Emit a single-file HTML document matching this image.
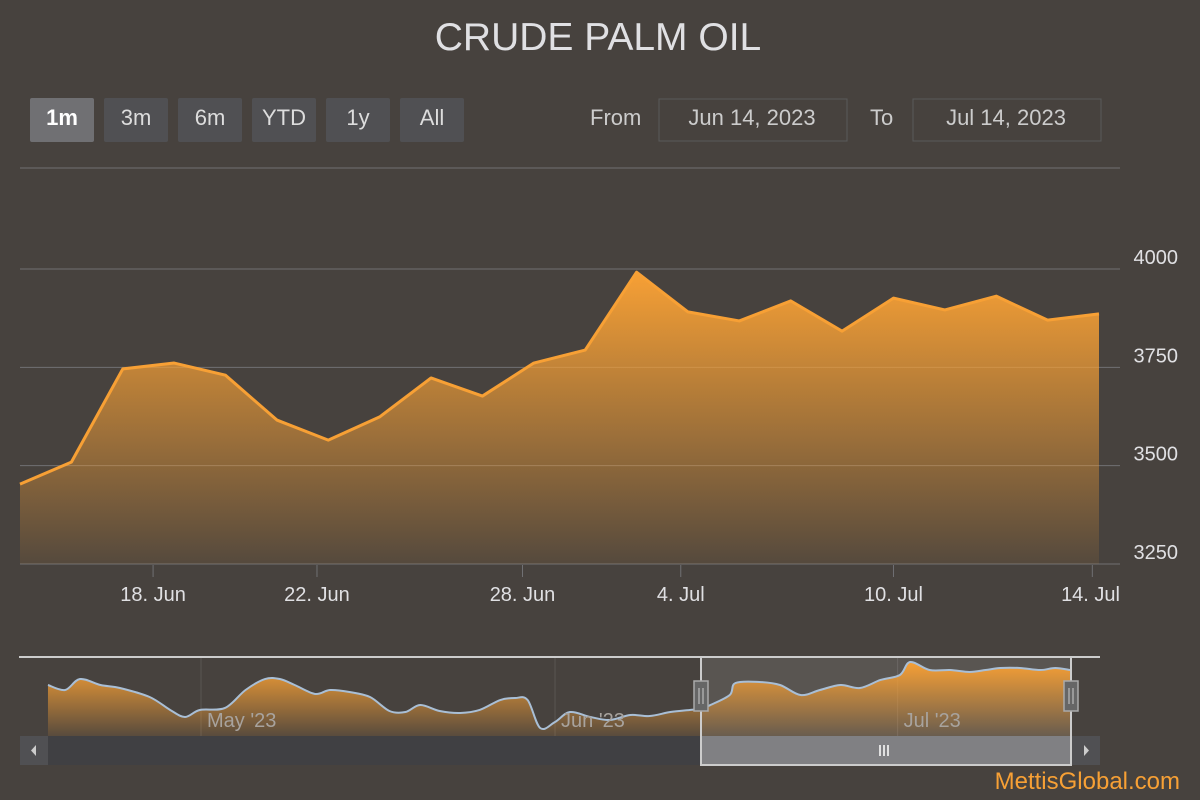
<!DOCTYPE html>
<html><head><meta charset="utf-8"><style>
body{margin:0;background:#47423e;width:1200px;height:800px;overflow:hidden;font-family:"Liberation Sans",sans-serif}
svg{display:block}
</style></head><body>
<svg id="c" width="1200" height="800">
<defs>
<linearGradient id="g" x1="0" y1="0" x2="0" y2="1"><stop offset="0" stop-color="#f7a035"/><stop offset="1" stop-color="#f7a035" stop-opacity="0.08"/></linearGradient>
<linearGradient id="g2" x1="0" y1="0" x2="0" y2="1"><stop offset="0" stop-color="#f7a035"/><stop offset="1" stop-color="#f7a035" stop-opacity="0.1"/></linearGradient>
</defs>
<text x="598" y="50" text-anchor="middle" font-size="39" fill="#e0e0e3">CRUDE PALM OIL</text>
<g>
<rect x="30" y="98" width="64" height="44" rx="2" fill="#707073"/><text x="62" y="125" text-anchor="middle" font-size="22" font-weight="bold" fill="#fff">1m</text>
<rect x="104" y="98" width="64" height="44" rx="2" fill="#505053"/><text x="136" y="125" text-anchor="middle" font-size="22" fill="#ddd">3m</text>
<rect x="178" y="98" width="64" height="44" rx="2" fill="#505053"/><text x="210" y="125" text-anchor="middle" font-size="22" fill="#ddd">6m</text>
<rect x="252" y="98" width="64" height="44" rx="2" fill="#505053"/><text x="284" y="125" text-anchor="middle" font-size="22" fill="#ddd">YTD</text>
<rect x="326" y="98" width="64" height="44" rx="2" fill="#505053"/><text x="358" y="125" text-anchor="middle" font-size="22" fill="#ddd">1y</text>
<rect x="400" y="98" width="64" height="44" rx="2" fill="#505053"/><text x="432" y="125" text-anchor="middle" font-size="22" fill="#ddd">All</text>
<text x="590" y="125" font-size="22" fill="#ccc">From</text>
<rect x="659" y="99" width="188" height="42" fill="none" stroke="#5a5a5a"/><text x="752" y="125" text-anchor="middle" font-size="22" fill="#ccc">Jun 14, 2023</text>
<text x="870" y="125" font-size="22" fill="#ccc">To</text>
<rect x="913" y="99" width="188" height="42" fill="none" stroke="#5a5a5a"/><text x="1006" y="125" text-anchor="middle" font-size="22" fill="#ccc">Jul 14, 2023</text>
</g>
<g id="main"></g>
<g id="nav"></g>
<text x="1180" y="789" text-anchor="end" font-size="24" fill="#f7a035">MettisGlobal.com</text>
</svg>
<script>
const values=[3453,3509,3746,3761,3730,3616,3565,3624,3723,3677,3761,3794,3992,3891,3868,3919,3842,3926,3896,3931,3870,3886];
const tickLabels=["18. Jun","22. Jun","28. Jun","4. Jul","10. Jul","14. Jul"];
const tickIdx=[2.59,5.78,9.78,12.86,17.0,20.87];
const yTicks=[3250,3500,3750,4000];
const navDays=[-13.4,-11.9,-10.6,-8.8,-7.1,-4.5,-2.7,-1.4,-0.1,2.1,3.9,5.6,6.9,8.2,10,11.3,13,14.8,16.5,17.9,19.2,20.9,22.7,24.4,26.2,27.5,28.6,29.7,31,32.3,34.1,35.8,37.6,39.3,41.1,42.8,43.7,44.6,46.3,46.8,48.9,50.7,52.5,54.2,56,57.7,59.5,61.2,62.1,63.8,65.6,67.3,68.7,70,71.7,73.5,74.8,76.1];
const navVals=[3749,3696,3812,3749,3717,3622,3485,3411,3485,3506,3696,3812,3812,3749,3654,3696,3675,3622,3474,3463,3537,3474,3453,3485,3590,3611,3590,3294,3358,3463,3411,3379,3432,3421,3463,3485,3495,3537,3643,3770,3781,3749,3643,3696,3749,3717,3802,3855,3992,3907,3907,3886,3907,3929,3929,3907,3929,3907];
const navLabels=["May '23","Jun '23","Jul '23"];
const navLabelDays=[0,31,61];
const NS="http://www.w3.org/2000/svg";
function mk(p,t,a){const e=document.createElementNS(NS,t);for(const k in a)e.setAttribute(k,a[k]);p.appendChild(e);return e;}
const X=i=>20+i*(1099-20)/(values.length-1);
const Y=v=>564-(v-3250)*0.3933;
const NX=d=>201+d*11.42;
const NY=v=>662-(v-3992)*0.0946;
const m=document.getElementById('main');
let gl=mk(m,'line',{x1:20,x2:1120,y1:168,y2:168,stroke:'#707073'});


yTicks.forEach(v=>{
 const l=mk(m,'line',{x1:20,x2:1120,y1:Y(v),y2:Y(v),stroke:'#707073'});
 
 
 const t=mk(m,'text',{x:1178,y:Y(v)-5,'text-anchor':'end','font-size':20,fill:'#e0e0e3'});t.textContent=v;
 
 
});
let pts=values.map((v,i)=>[X(i),Y(v)]);
let d='M'+pts.map(p=>p.join(',')).join('L');
const area=mk(m,'path',{d:d+`L${X(values.length-1)},564L20,564Z`,fill:'url(#g)'});


const line=mk(m,'path',{d:d,fill:'none',stroke:'#f7a035','stroke-width':3,'stroke-linejoin':'round'});


tickIdx.forEach((ix,k)=>{
 const l=mk(m,'line',{x1:X(ix),x2:X(ix),y1:565,y2:577,stroke:'#707073'});
 
 
 const t=mk(m,'text',{x:X(ix),y:601,'text-anchor':k==tickIdx.length-1?'end':'middle','font-size':20,fill:'#e0e0e3'});
 if(k==tickIdx.length-1)t.setAttribute('x',1120);
 t.textContent=tickLabels[k];
 
 
});
const n=document.getElementById('nav');
navLabelDays.forEach((dd,k)=>{
 const l=mk(n,'line',{x1:NX(dd),x2:NX(dd),y1:657,y2:736,stroke:'#5a5552'});
 
 
});
const sel=mk(n,'rect',{x:700,y:657,width:371,height:79,fill:'rgba(255,255,255,0.1)'});


let np=navDays.map((dd,i)=>[NX(dd),NY(navVals[i])]);
let nd='M'+np[0].join(',');
for(let i=0;i<np.length-1;i++){const p0=np[Math.max(0,i-1)],p1=np[i],p2=np[i+1],p3=np[Math.min(np.length-1,i+2)];
 nd+=`C${p1[0]+(p2[0]-p0[0])/6},${p1[1]+(p2[1]-p0[1])/6} ${p2[0]-(p3[0]-p1[0])/6},${p2[1]-(p3[1]-p1[1])/6} ${p2[0]},${p2[1]}`;}
const na=mk(n,'path',{d:nd+`L${np[np.length-1][0]},736L${np[0][0]},736Z`,fill:'url(#g2)'});


const nl=mk(n,'path',{d:nd,fill:'none',stroke:'#a9bfd6','stroke-width':2});


navLabelDays.forEach((dd,k)=>{
 const t=mk(n,'text',{x:NX(dd)+6,y:727,'font-size':20,fill:'#a8a39e'});t.textContent=navLabels[k];
 
 
});
n.insertAdjacentHTML('beforeend',`
<line x1="19" x2="1100" y1="657" y2="657" stroke="#ccc" stroke-width="2"/>
<rect x="20" y="736" width="1080" height="29" fill="#404043"/>
<rect x="20" y="736" width="28" height="29" fill="#505053"/>
<path d="M36,745 L31,750.5 L36,756Z" fill="#ccc"/>
<rect x="1072" y="736" width="28" height="29" fill="#505053"/>
<path d="M1084,745 L1089,750.5 L1084,756Z" fill="#ccc"/>
<rect x="701" y="736" width="370" height="29" fill="#808083"/>
<path d="M880,745V756M884,745V756M888,745V756" stroke="#fff" stroke-width="1.5"/>
<path d="M701,736 V657 H1071 V765 H701 Z" fill="none" stroke="#ccc" stroke-width="2"/>
<rect x="694" y="681" width="14" height="30" fill="#666" stroke="#aaa" stroke-width="1.5"/>
<path d="M699,688V704M703,688V704" stroke="#ccc"/>
<rect x="1064" y="681" width="14" height="30" fill="#666" stroke="#aaa" stroke-width="1.5"/>
<path d="M1069,688V704M1073,688V704" stroke="#ccc"/>`);
</script>
</body></html>
